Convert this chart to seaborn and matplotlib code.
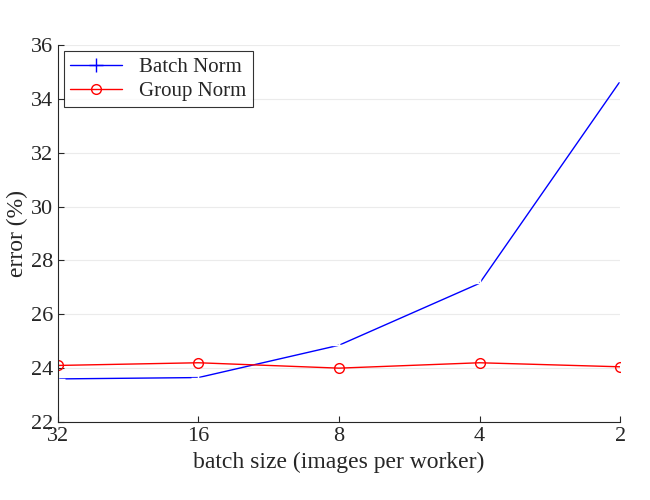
import matplotlib
matplotlib.use("Agg")
import matplotlib.pyplot as plt
import seaborn as sns
from matplotlib.lines import Line2D

batch_labels = ["32", "16", "8", "4", "2"]
positions = [0, 1, 2, 3, 4]
batch_norm = [23.6, 23.65, 24.85, 27.15, 34.65]
group_norm = [24.1, 24.2, 24.0, 24.2, 24.05]

sns.set_style("white")
plt.rcParams['font.family'] = ['Liberation Serif', 'DejaVu Serif']

fig = plt.figure(figsize=(6.5, 5), dpi=100)
ax = fig.add_axes([0.089, 0.156, 0.865, 0.754])
ax.yaxis.grid(True, color="#ebebeb", linewidth=0.8)
ax.set_axisbelow(True)

sns.lineplot(x=positions, y=batch_norm, color="#0000ff", marker="+",
             markersize=10, markeredgewidth=1, linewidth=1, ax=ax)
sns.lineplot(x=positions, y=group_norm, color="#ff0000", marker="o",
             markersize=7, markerfacecolor="none", markeredgecolor="#ff0000",
             markeredgewidth=1, linewidth=1, ax=ax)

handles = [Line2D([], [], color="#0000ff", marker="+", markersize=10, lw=1),
           Line2D([], [], color="#ff0000", marker="o", markersize=7, mfc="none", lw=1)]
leg = ax.legend(handles, ["Batch Norm", "Group Norm"], loc="upper left", fontsize=15,
                frameon=True, fancybox=False, edgecolor="black", borderaxespad=0.3,
                handlelength=2.5, borderpad=0.3, labelspacing=0.2)
leg.get_frame().set_linewidth(0.8)

ax.set_xlim(0, 4)
ax.set_ylim(22, 36)
ax.set_xticks(positions)
ax.set_xticklabels(batch_labels)
ax.set_yticks(range(22, 37, 2))
ax.tick_params(labelsize=16, direction="in", length=4, left=True, bottom=True)
ax.set_xlabel("batch size (images per worker)", fontsize=17)
ax.set_ylabel("error (%)", fontsize=17, labelpad=2)
for s in ["top", "right"]:
    ax.spines[s].set_visible(False)
for s in ["left", "bottom"]:
    ax.spines[s].set_color("#262626")
    ax.spines[s].set_linewidth(0.8)

fig.savefig("out.png", dpi=100)
